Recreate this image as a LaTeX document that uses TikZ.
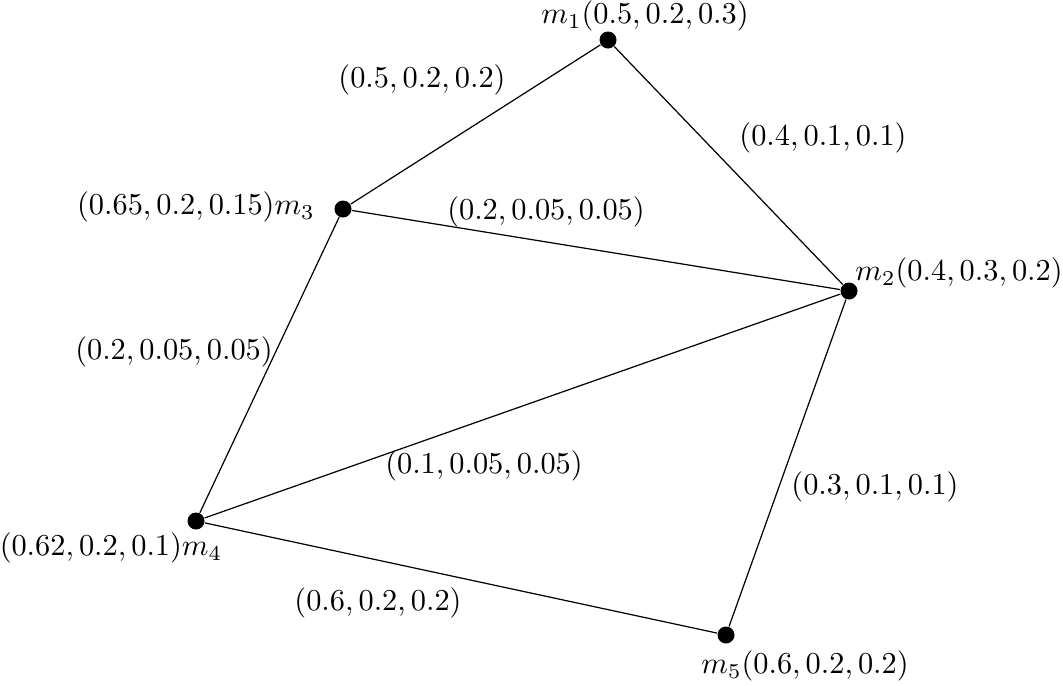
\documentclass[tikz,border=0pt]{standalone}
\begin{document}
\begin{tikzpicture}[x=0.3293pt,y=-0.3293pt,
  font=\fontsize{10.25}{12}\selectfont,
  dot/.style={circle,fill=black,inner sep=0pt,minimum size=5.6pt},
  lbl/.style={inner sep=0pt},
  edge/.style={draw=black,line width=0.4pt}]
\useasboundingbox (0,0) rectangle (1063,685);
\node[dot] (m1) at (608,40) {};
\node[dot] (m2) at (849,291) {};
\node[dot] (m3) at (343,209) {};
\node[dot] (m4) at (196,521) {};
\node[dot] (m5) at (726,635) {};
\draw[edge] (m1) -- (m3);
\draw[edge] (m1) -- (m2);
\draw[edge] (m3) -- (m2);
\draw[edge] (m3) -- (m4);
\draw[edge] (m4) -- (m2);
\draw[edge] (m4) -- (m5);
\draw[edge] (m5) -- (m2);
\node[lbl] (t1) at (645,16) {$m_1(0.5,0.2,0.3)$};
\node[lbl] (t2) at (959,273) {$m_2(0.4,0.3,0.2)$};
\node[lbl] (t3) at (196,207) {$(0.65,0.2,0.15)m_3$};
\node[lbl] (t4) at (111,548) {$(0.62,0.2,0.1)m_4$};
\node[lbl] (t5) at (805,666) {$m_5(0.6,0.2,0.2)$};
\node[lbl] (e13) at (422,80) {$(0.5,0.2,0.2)$};
\node[lbl] (e12) at (823,138) {$(0.4,0.1,0.1)$};
\node[lbl] (e32) at (546,212) {$(0.2,0.05,0.05)$};
\node[lbl] (e34) at (174,352) {$(0.2,0.05,0.05)$};
\node[lbl] (e42) at (484,466) {$(0.1,0.05,0.05)$};
\node[lbl] (e52) at (875,487) {$(0.3,0.1,0.1)$};
\node[lbl] (e45) at (378,603) {$(0.6,0.2,0.2)$};
\end{tikzpicture}
\end{document}
